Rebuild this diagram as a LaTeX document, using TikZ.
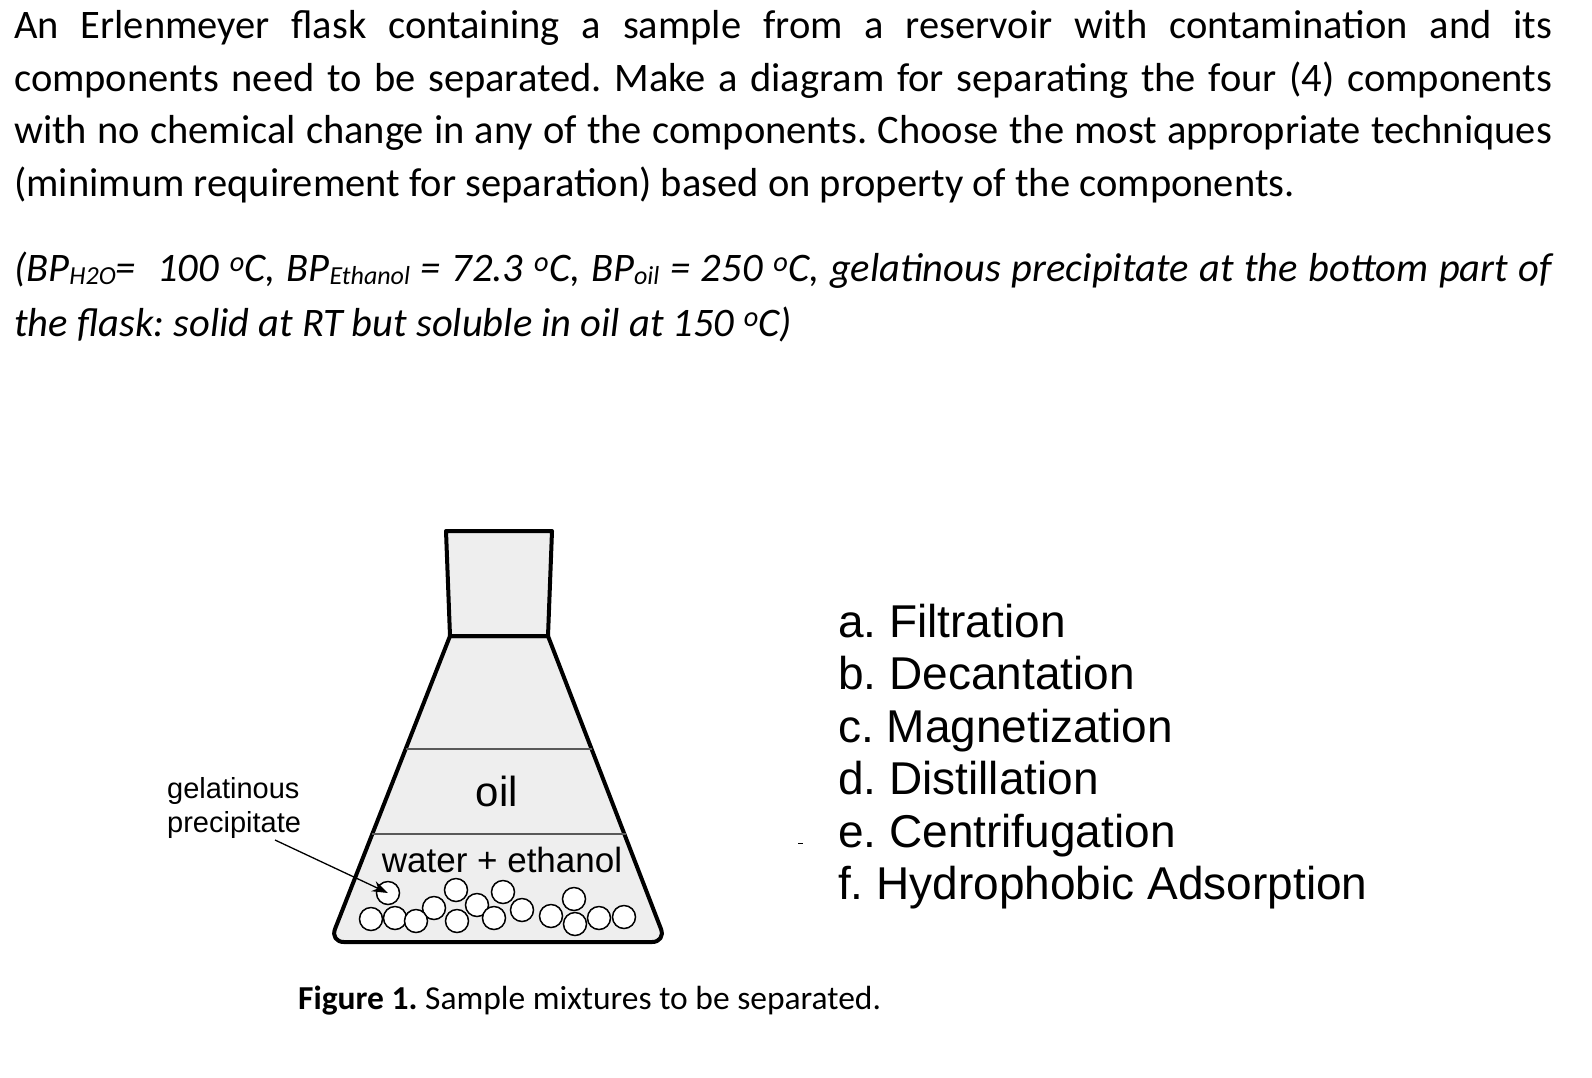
\documentclass[tikz,border=0pt]{standalone}
\usepackage{fontspec}
\setmainfont{Carlito}
\newfontfamily\arialf{Liberation Sans}
\usetikzlibrary{arrows.meta}
\definecolor{flaskfill}{HTML}{EEEEEE}
\frenchspacing
\newcommand{\sbx}[1]{\raisebox{-3pt}{\fontsize{26}{26}\selectfont #1}}
\newcommand{\degc}{\textsuperscript{o}C}
\tikzset{
  ptxt/.style={anchor=base west, inner sep=0, font=\fontsize{40.5}{45}\selectfont},
  itxt/.style={anchor=base west, inner sep=0, font=\fontsize{40.5}{45}\selectfont\itshape},
  listtxt/.style={anchor=base west, inner sep=0, font=\arialf\fontsize{46}{52}\selectfont},
  flasktxt/.style={inner sep=0, font=\arialf\fontsize{35}{40}\selectfont},
  lbltxt/.style={anchor=base west, inner sep=0, font=\arialf\fontsize{29}{34}\selectfont},
  bead/.style={draw=black, fill=white, line width=1.5pt},
  flaskline/.style={draw=black, line width=4pt, line join=round},
  layer/.style={draw=black!65, line width=2pt}
}
\begin{document}
\frenchspacing
\begin{tikzpicture}[x=1pt,y=-1pt]
\useasboundingbox (0,0) rectangle (1592,1077);
% paragraph
\node[ptxt] (p1) at (14,38) {\makebox[1538pt][s]{An Erlenmeyer flask containing a sample from a reservoir with contamination and its}};
\node[ptxt] (p2) at (14,91) {\makebox[1538pt][s]{components need to be separated. Make a diagram for separating the four (4) components}};
\node[ptxt] (p3) at (14,143) {\makebox[1538pt][s]{with no chemical change in any of the components. Choose the most appropriate techniques}};
\node[ptxt] (p4) at (14,196) {(minimum requirement for separation) based on property of the components.};
\node[itxt] (q1) at (14,281) {\makebox[1538pt][s]{(BP\sbx{H2O}=\ \ 100 \degc, BP\sbx{Ethanol} = 72.3 \degc, BP\sbx{oil} = 250 \degc, gelatinous precipitate at the bottom part of}};
\node[itxt] (q2) at (14,336) {the flask: solid at RT but soluble in oil at 150 \degc)};
% flask
\path[flaskline, fill=flaskfill] (450,636) -- (335,929) [rounded corners=14pt] -- (330,942) -- (666,942) [sharp corners] -- (661,929) -- (548,636) -- cycle;
\path[flaskline, fill=flaskfill] (446,531) -- (552,531) -- (548,636) -- (450,636) -- cycle;
\draw[layer] (406,749) -- (592,749);
\draw[layer] (372,834) -- (626,834);
\node[flasktxt, font=\arialf\fontsize{42}{46}\selectfont] (oil) at (497,791) {oil};
\node[flasktxt] (we) at (502,860) {water + ethanol};
% beads
\foreach \x/\y [count=\i] in {388/893, 456/890, 503/892, 574/899, 434/908, 477/905, 522/910, 371/919, 395/918, 416/921, 457/921, 494/918, 551/916, 575/924, 599/918, 624/917}
  \node[bead, circle, minimum size=23pt, inner sep=0] (b\i) at (\x,\y) {};
% label and arrow
\node[lbltxt] (l1) at (167,798) {gelatinous};
\node[lbltxt] (l2) at (167,832) {precipitate};
\coordinate (arrstart) at (275,840);
\draw[line width=1.3pt, -{Stealth[length=16pt,width=11pt]}] (arrstart) -- (b1.center);
% list
\node[listtxt] (la) at (838,637) {a. Filtration};
\node[listtxt] (lb) at (838,689) {b. Decantation};
\node[listtxt] (lc) at (838,742) {c. Magnetization};
\node[listtxt] (ld) at (838,794) {d. Distillation};
\node[listtxt] (le) at (838,847) {e. Centrifugation};
\node[listtxt] (lf) at (838,899) {f. Hydrophobic Adsorption};
\draw[line width=1pt] (798,843) -- (803,843);
% caption
\node[anchor=base west, inner sep=0, font=\fontsize{33.5}{38}\selectfont] (cap) at (298,1009) {\textbf{Figure 1.} Sample mixtures to be separated.};
\end{tikzpicture}
\end{document}
